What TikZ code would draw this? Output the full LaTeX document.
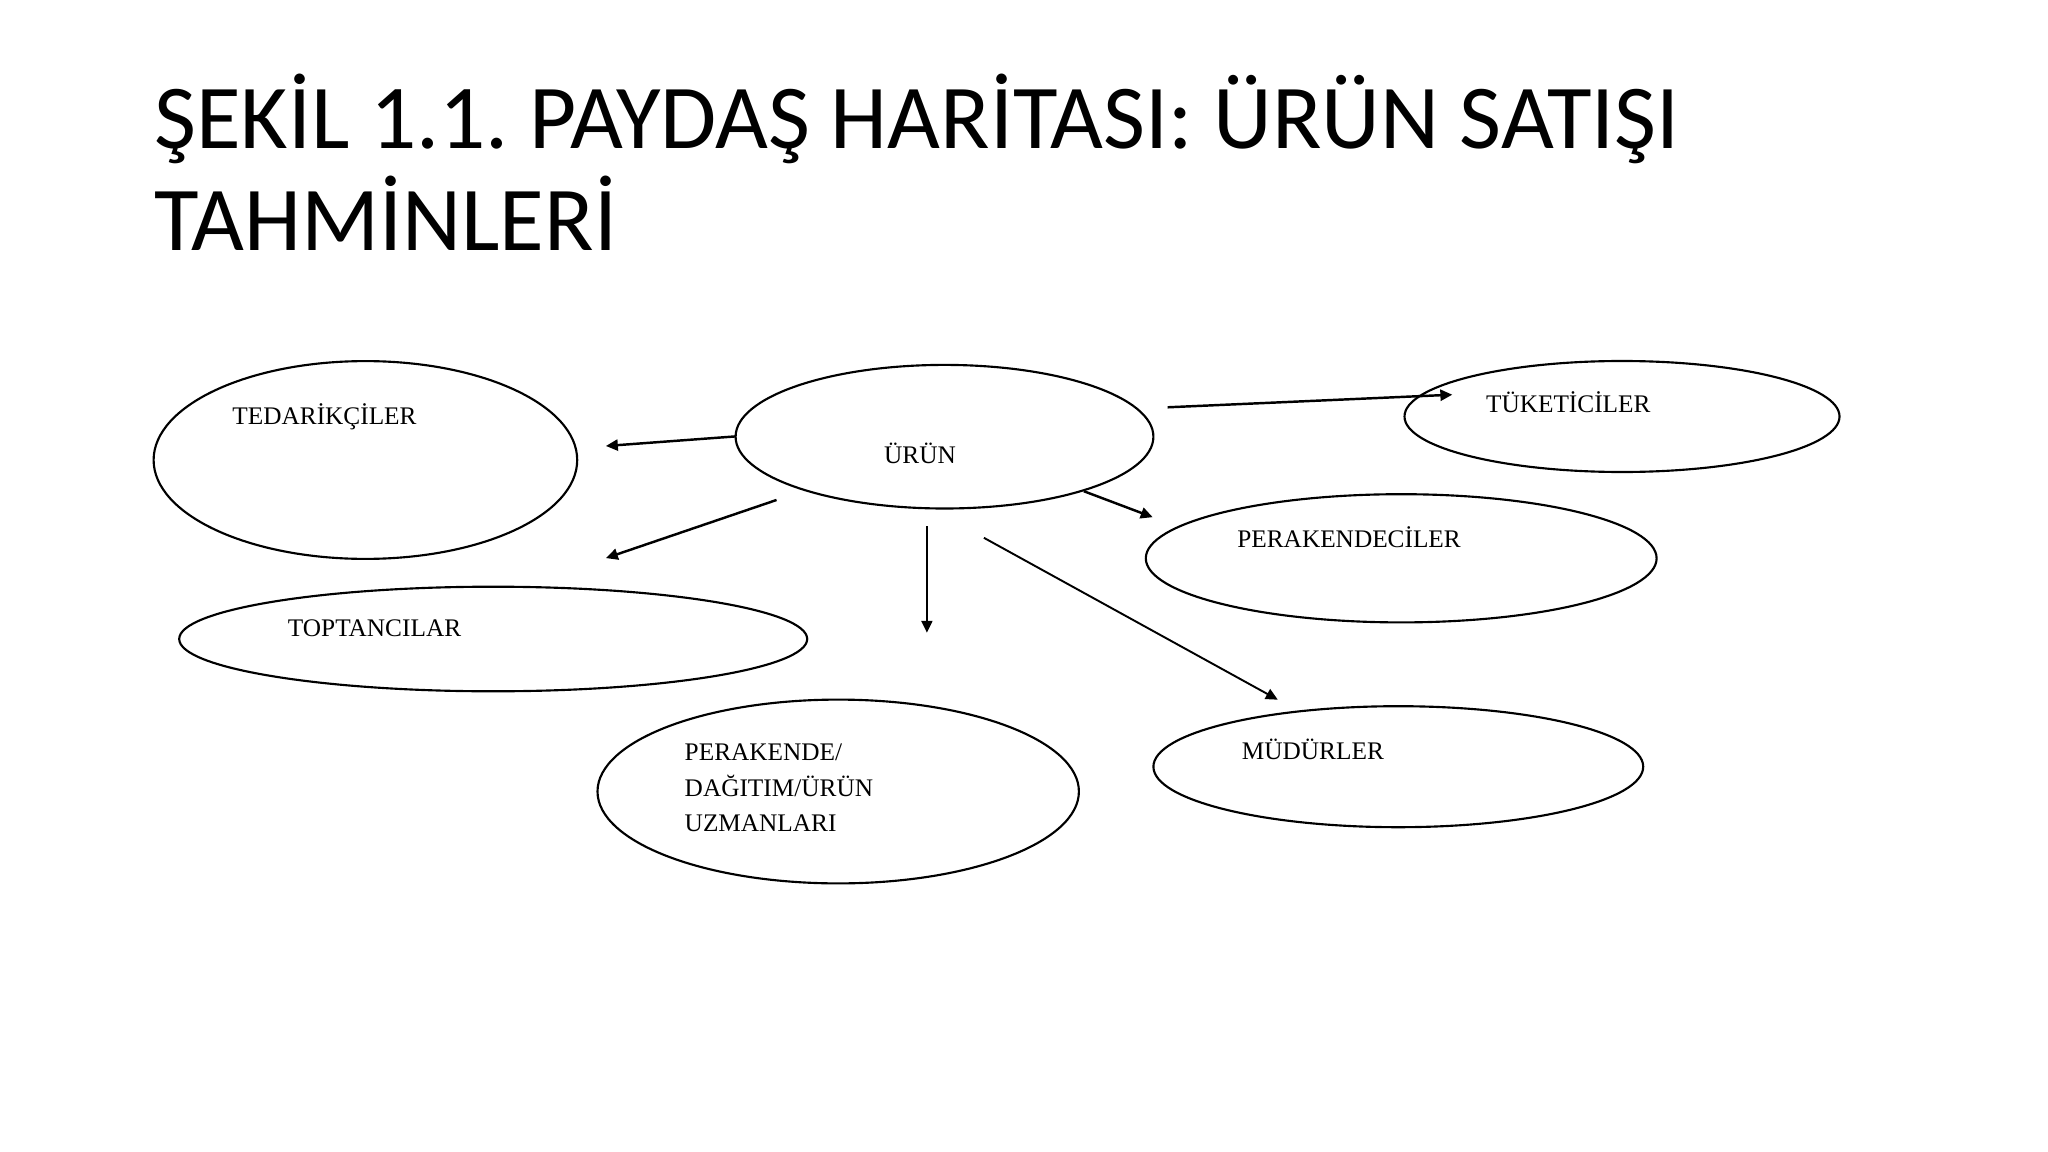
\documentclass[tikz,border=0pt]{standalone}
\usepackage{fontspec}
\setmainfont{Liberation Serif}
\newfontfamily\titlefont{Carlito}
\usetikzlibrary{shapes.geometric,arrows.meta}
\newlength\pxu
\setlength\pxu{0.46875pt}
\frenchspacing
\begin{document}
\begin{tikzpicture}[x=0.46875pt,y=-0.46875pt,
  oval/.style={draw, ellipse, line width=1pt, inner sep=0pt},
  lbl/.style={anchor=base west, inner sep=0pt, font=\fontsize{11.86pt}{14pt}\selectfont},
  ttl/.style={anchor=base west, inner sep=0pt, font=\titlefont\fontsize{42.8pt}{49pt}\selectfont},
  conn/.style={line width=1.15pt, -{Triangle[length=5.6pt,width=5.2pt]}}]
\useasboundingbox (0,0) rectangle (2048,1152);
\fill[white] (0,0) rectangle (2048,1152);

% title
\node[ttl] (title1) at (154,148.1) {ŞEKİL 1.1. PAYDAŞ HARİTASI: ÜRÜN SATIŞI};
\node[ttl] (title2) at (154,250.6) {TAHMİNLERİ};

% ellipses
\node[oval, minimum width=423.6*\pxu, minimum height=197.8*\pxu] (ted) at (365.4,460) {};
\node[oval, minimum width=417.8*\pxu, minimum height=143.6*\pxu] (urun) at (944.5,436.7) {};
\node[oval, minimum width=435*\pxu, minimum height=111*\pxu] (tuk) at (1622,416.5) {};
\node[oval, minimum width=510.8*\pxu, minimum height=128.2*\pxu] (per) at (1401.2,558.3) {};
\node[oval, minimum width=628*\pxu, minimum height=104.6*\pxu] (top) at (493.2,639) {};
\node[oval, minimum width=481.4*\pxu, minimum height=183.8*\pxu] (uzm) at (838.2,791.5) {};
\node[oval, minimum width=489.8*\pxu, minimum height=121*\pxu] (mud) at (1398.3,766.7) {};

% labels
\node[lbl] (tedT) at (232,424.7) {TEDARİKÇİLER};
\node[lbl] (urunT) at (883.7,463.6) {ÜRÜN};
\node[lbl] (tukT) at (1485.6,412) {TÜKETİCİLER};
\node[lbl] (perT) at (1236.9,547.8) {PERAKENDECİLER};
\node[lbl] (topT) at (287.5,636.6) {TOPTANCILAR};
\node[lbl] (uzmA) at (684.3,760.2) {PERAKENDE/};
\node[lbl] (uzmB) at (684.3,796.1) {DAĞITIM/ÜRÜN};
\node[lbl] (uzmC) at (684.3,831) {UZMANLARI};
\node[lbl] (mudT) at (1241.5,759) {MÜDÜRLER};

% connector end points
\coordinate (s1) at (735.6,436.4);  \coordinate (e1) at (605.9,446);
\coordinate (s2) at (776.5,500);    \coordinate (e2) at (605.9,558.1);
\coordinate (s3) at (926.9,526.4);  \coordinate (e3) at (926.9,632.7);
\coordinate (s4) at (983.9,537.8);  \coordinate (e4) at (1277.8,699.7);
\coordinate (s5) at (1083.8,491.2); \coordinate (e5) at (1152.7,517.2);
\coordinate (s6) at (1167.6,407.3); \coordinate (e6) at (1452.3,394.7);

\draw[conn] (s1) -- (e1);
\draw[conn] (s2) -- (e2);
\draw[conn, line width=0.9pt] (s3) -- (e3);
\draw[conn, line width=0.9pt] (s4) -- (e4);
\draw[conn] (s5) -- (e5);
\draw[conn] (s6) -- (e6);
\end{tikzpicture}
\end{document}
